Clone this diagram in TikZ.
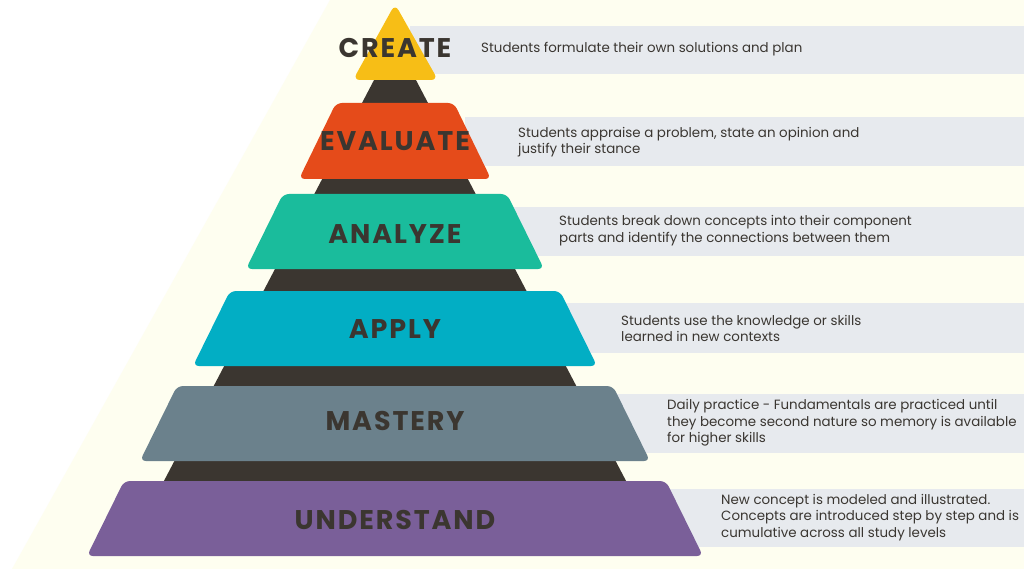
\documentclass[tikz,border=0pt]{standalone}
\usepackage{fontspec}
\setmainfont{Poppins}
\newfontfamily\labfont[LetterSpace=7]{Poppins}
\definecolor{cream}{HTML}{FEFEF0}
\definecolor{barg}{HTML}{E7EAEE}
\definecolor{darkp}{HTML}{3B3630}
\definecolor{txt}{HTML}{3A3631}
\definecolor{cyel}{HTML}{F7BE16}
\definecolor{corg}{HTML}{E54B1A}
\definecolor{cteal}{HTML}{1ABC9C}
\definecolor{ccyan}{HTML}{02AEC4}
\definecolor{cslate}{HTML}{6B818C}
\definecolor{cpurp}{HTML}{7A5F99}
\newcommand\pyrlayer[5]{\fill[#5, rounded corners=6pt] ({395-#3},#1) -- ({395+#3},#1) -- ({395+#4},#2) -- ({395-#4},#2) -- cycle;}
\tikzset{
  lab/.style={font=\labfont\bfseries\fontsize{27}{27}\selectfont, text=darkp, inner sep=0pt, anchor=center},
  desc/.style={font=\fontsize{13.4}{16.5}\selectfont, text=txt, inner sep=0pt, anchor=west, align=left}
}
\begin{document}
\begin{tikzpicture}[x=1pt,y=-1pt]
\useasboundingbox (0,0) rectangle (1024,569);
\fill[white] (0,0) rectangle (1024,569);
\fill[cream] (330,0) -- (1024,0) -- (1024,569) -- (12,569) -- cycle;
% grey bars
\fill[barg] (410,26) rectangle (1024,74);
\fill[barg] (465,117) rectangle (1024,166);
\fill[barg] (505,207) rectangle (1024,256);
\fill[barg] (560,303) rectangle (1024,353);
\fill[barg] (610,394) rectangle (1024,453);
\fill[barg] (660,489) rectangle (1024,547);
% dark pyramid
\fill[darkp] (395,40) -- (657,540) -- (133,540) -- cycle;
% layers
\fill[cyel, rounded corners=7pt] (395,4) -- (438,80) -- (353,80) -- cycle;
\pyrlayer{103}{179}{59}{96}{corg}
\pyrlayer{194}{269}{112}{149}{cteal}
\pyrlayer{291}{366}{165}{202}{ccyan}
\pyrlayer{386}{461}{218}{255}{cslate}
\pyrlayer{481}{556}{271}{308}{cpurp}
% labels
\node[lab] (create) at (395,48) {CREATE};
\node[lab] (evaluate) at (395,141) {EVALUATE};
\node[lab] (analyze) at (395,234) {ANALYZE};
\node[lab] (apply) at (395,329) {APPLY};
\node[lab] (mastery) at (395,421) {MASTERY};
\node[lab] (understand) at (395,520) {UNDERSTAND};
% descriptions
\node[desc] (dcreate) at (481,49) {Students formulate their own solutions and plan};
\node[desc] (devaluate) at (518,142) {Students appraise a problem, state an opinion and\\justify their stance};
\node[desc] (danalyze) at (559,230.5) {Students break down concepts into their component\\parts and identify the connections between them};
\node[desc] (dapply) at (621,328.5) {Students use the knowledge or skills\\learned in new contexts};
\node[desc] (dmastery) at (667,423) {Daily practice - Fundamentals are practiced until\\they become second nature so memory is available\\for higher skills};
\node[desc] (dunderstand) at (721,517.5) {New concept is modeled and illustrated.\\Concepts are introduced step by step and is\\cumulative across all study levels};
\end{tikzpicture}
\end{document}
